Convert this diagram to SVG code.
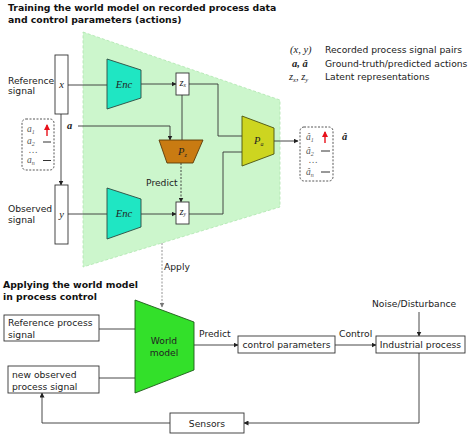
<svg xmlns="http://www.w3.org/2000/svg" width="474" height="435" viewBox="0 0 474 435">
<defs>
<marker id="ah" markerWidth="5" markerHeight="5" refX="4.5" refY="2.5" orient="auto" markerUnits="userSpaceOnUse"><path d="M0,0 L5,2.5 L0,5 z" fill="#222"/></marker>
<marker id="ahg" markerWidth="5" markerHeight="5" refX="4.5" refY="2.5" orient="auto" markerUnits="userSpaceOnUse"><path d="M0,0 L5,2.5 L0,5 z" fill="#777"/></marker>
<marker id="ahr" markerWidth="6" markerHeight="6" refX="5" refY="3" orient="auto" markerUnits="userSpaceOnUse"><path d="M0,0 L6,3 L0,6 z" fill="#e8101a"/></marker>
</defs>
<style>
.t{font-family:"DejaVu Sans",Verdana,sans-serif;font-size:9.2px;fill:#222}
.tb{font-family:"DejaVu Sans",Verdana,sans-serif;font-size:9.3px;font-weight:bold;fill:#111}
.m{font-family:"Liberation Serif","DejaVu Serif",serif;font-style:italic;font-size:10.5px;fill:#222}
.mg{font-family:"Liberation Serif","DejaVu Serif",serif;font-style:italic;font-size:9.5px;fill:#555}
.ln{fill:none;stroke:#333;stroke-width:0.9}
.box{fill:#fff;stroke:#333;stroke-width:0.9}
.enc{fill:#1fe6c3;stroke:#2c4a40;stroke-width:0.9}
.dbox{fill:#fff;stroke:#444;stroke-width:0.9;stroke-dasharray:2,1.5}
.red{stroke:#e8101a;stroke-width:1.4;fill:none}
.dash{stroke:#333;stroke-width:1}
</style>

<text class="tb" x="8" y="11">Training the world model on recorded process data</text>
<text class="tb" x="8" y="23">and control parameters (actions)</text>

<g id="green-region">
<polygon points="83,32 280,100 280,207 83,267" fill="#ccf6cc" stroke="#aee6ae" stroke-width="0.8" stroke-dasharray="3,2"/>
</g>

<g id="legend">
<text class="m" x="290" y="53">(x, y)</text>
<text class="t" x="325" y="53">Recorded process signal pairs</text>
<text class="m" x="292" y="66.5" font-weight="bold">a, â</text>
<text class="t" x="325" y="66.5">Ground-truth/predicted actions</text>
<text class="m" x="289" y="80">z<tspan font-size="6.5" dy="1.5">x</tspan><tspan dy="-1.5">, z</tspan><tspan font-size="6.5" dy="1.5">y</tspan></text>
<text class="t" x="325" y="80">Latent representations</text>
</g>

<g id="connectors">
<path class="ln" d="M68,85 H107"/>
<path class="ln" d="M141,84 H176" marker-end="url(#ah)"/>
<path class="ln" d="M68,214 H107"/>
<path class="ln" d="M141,214 H176" marker-end="url(#ah)"/>
<path class="ln" d="M61,114 V185" marker-end="url(#ah)"/>
<path class="ln" d="M78,126 H170 V140" marker-end="url(#ah)"/>
<path class="ln" d="M182,95 V140"/>
<path class="ln" d="M181,163 V202" stroke-dasharray="2,1.5" marker-end="url(#ah)"/>
<path class="ln" d="M189,84 H218 V136 H242"/>
<path class="ln" d="M189,214 H223 V152 H242"/>
<path class="ln" d="M274,141 H298" marker-end="url(#ah)"/>
<path d="M162,243 V307" fill="none" stroke="#888" stroke-width="0.9" stroke-dasharray="2,1.5" marker-end="url(#ahg)"/>
<path class="ln" d="M99,329 H135"/>
<path class="ln" d="M99,378 H135"/>
<path class="ln" d="M194,345 H238" marker-end="url(#ah)"/>
<path class="ln" d="M335,345 H376" marker-end="url(#ah)"/>
<path class="ln" d="M419,312 V336" marker-end="url(#ah)"/>
<path class="ln" d="M419,353 V423 H244" marker-end="url(#ah)"/>
<path class="ln" d="M170,423 H42 V393" marker-end="url(#ah)"/>
</g>

<g id="ref-signal">
<rect class="box" x="55" y="55" width="13" height="59"/>
<text class="m" x="61.5" y="88" text-anchor="middle">x</text>
<text class="t" x="8" y="83.5">Reference</text>
<text class="t" x="8" y="94">signal</text>
</g>

<g id="obs-signal">
<rect class="box" x="55" y="185" width="13" height="59"/>
<text class="m" x="61.5" y="218" text-anchor="middle">y</text>
<text class="t" x="8" y="212">Observed</text>
<text class="t" x="8" y="223">signal</text>
</g>

<g id="actions-in">
<rect class="dbox" x="22" y="119" width="32" height="51" rx="4"/>
<text class="mg" x="27" y="132">a<tspan font-size="6" dy="1.5">1</tspan></text>
<path class="red" d="M47,136 V125" marker-end="url(#ahr)"/>
<text class="mg" x="27" y="144">a<tspan font-size="6" dy="1.5">2</tspan></text>
<path class="dash" d="M43,142 H51"/>
<text class="mg" x="29" y="153">…</text>
<text class="mg" x="27" y="163">a<tspan font-size="6" dy="1.5">n</tspan></text>
<path class="dash" d="M43,160.5 H51"/>
</g>
<text class="m" x="67" y="129" font-weight="bold">a</text>

<g id="enc-x">
<polygon class="enc" points="107,59 141,70 141,98 107,109"/>
<text class="m" x="124" y="88" text-anchor="middle" fill="#3b6b62">Enc</text>
</g>
<g id="enc-y">
<polygon class="enc" points="107,188 141,199 141,227 107,239"/>
<text class="m" x="124" y="217" text-anchor="middle" fill="#3b6b62">Enc</text>
</g>

<g id="zx">
<rect class="box" x="176" y="73" width="13" height="22"/>
<text class="m" x="179.5" y="86" font-size="8.5">z<tspan font-size="5.5" dy="1">x</tspan></text>
</g>
<g id="zy">
<rect class="box" x="176" y="202" width="13" height="22"/>
<text class="m" x="179.5" y="215" font-size="8.5">z<tspan font-size="5.5" dy="1">y</tspan></text>
</g>

<g id="pz">
<polygon points="159,140 203,140 193,163 167,163" fill="#c97b12" stroke="#5a3a08" stroke-width="0.9"/>
<text class="m" x="178" y="155" fill="#5a3a10">P<tspan font-size="6" dy="1.5">z</tspan></text>
</g>
<text class="t" x="146" y="186">Predict</text>

<g id="pa">
<polygon points="242,116 274,128 274,154 242,166" fill="#cdd520" stroke="#4a5010" stroke-width="0.9"/>
<text class="m" x="254" y="144" fill="#4a4a10">P<tspan font-size="6" dy="1.5">a</tspan></text>
</g>

<g id="actions-out">
<rect class="dbox" x="300" y="127" width="33" height="54" rx="4"/>
<text class="mg" x="306" y="140">â<tspan font-size="6" dy="1.5">1</tspan></text>
<path class="red" d="M325,143 V132" marker-end="url(#ahr)"/>
<text class="mg" x="306" y="154">â<tspan font-size="6" dy="1.5">2</tspan></text>
<path class="dash" d="M321,151 H330"/>
<text class="mg" x="309" y="163">…</text>
<text class="mg" x="306" y="175">â<tspan font-size="6" dy="1.5">n</tspan></text>
<path class="dash" d="M321,172 H330"/>
</g>
<text class="m" x="342" y="140" font-weight="bold">â</text>

<text class="t" x="164" y="270">Apply</text>

<text class="tb" x="3" y="288">Applying the world model</text>
<text class="tb" x="3" y="299.5">in process control</text>

<g id="world-model">
<polygon points="135,300 194,322 194,370 135,393" fill="#33e02a" stroke="#1e5a1a" stroke-width="0.9"/>
<text class="t" x="164" y="344" text-anchor="middle" fill="#1a4a1a">World</text>
<text class="t" x="164" y="356" text-anchor="middle" fill="#1a4a1a">model</text>
</g>

<g id="ref-process">
<rect class="box" x="4" y="315" width="95" height="26"/>
<text class="t" x="8" y="326">Reference process</text>
<text class="t" x="8" y="338">signal</text>
</g>

<g id="new-observed">
<rect class="box" x="8" y="366" width="91" height="27"/>
<text class="t" x="12" y="377.5">new observed</text>
<text class="t" x="12" y="389.5">process signal</text>
</g>

<text class="t" x="199" y="337">Predict</text>

<g id="control-params">
<rect class="box" x="238" y="336" width="97" height="17"/>
<text class="t" x="286.5" y="348" text-anchor="middle">control parameters</text>
</g>

<text class="t" x="339" y="337">Control</text>

<g id="industrial">
<rect class="box" x="376" y="336" width="89" height="17"/>
<text class="t" x="420.5" y="348" text-anchor="middle">Industrial process</text>
</g>

<text class="t" x="372" y="307">Noise/Disturbance</text>

<g id="sensors">
<rect class="box" x="170" y="413" width="74" height="20"/>
<text class="t" x="207" y="426.5" text-anchor="middle">Sensors</text>
</g>
</svg>
